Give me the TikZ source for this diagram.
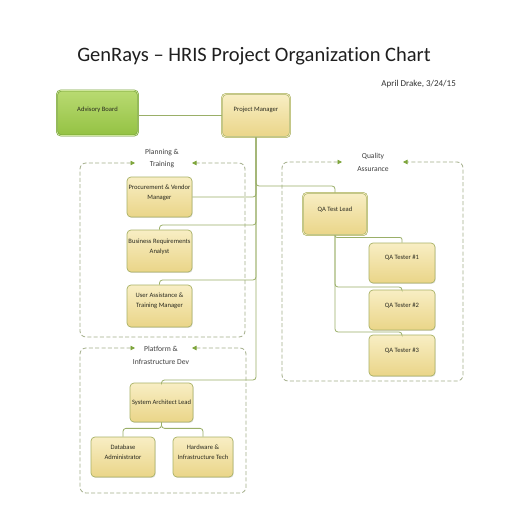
\documentclass[tikz,border=0pt]{standalone}
\usepackage{fontspec}
\setmainfont{Carlito}[Ligatures=NoCommon]
\usetikzlibrary{arrows.meta,shadows}
\definecolor{boxtop}{HTML}{F8EEC4}
\definecolor{boxbot}{HTML}{EAD588}
\definecolor{boxline}{HTML}{A9B266}
\definecolor{agtop}{HTML}{B9DA72}
\definecolor{agbot}{HTML}{94C243}
\definecolor{agline}{HTML}{76A338}
\definecolor{conn}{HTML}{9AAF68}
\definecolor{dashc}{HTML}{A2AD88}
\definecolor{arr}{HTML}{7DA53A}
\definecolor{txt}{HTML}{2A2A20}
\tikzset{
  box/.style={draw=boxline, line width=0.7pt, rounded corners=4pt, top color=boxtop, bottom color=boxbot,
    inner sep=0pt, drop shadow={shadow xshift=0.7pt, shadow yshift=-0.9pt, opacity=0.25}},
  keybox/.style={box, line width=0.6pt, double=boxtop, double distance=0.7pt},
  agbox/.style={keybox, draw=agline, double=agtop!70!white, top color=agtop, bottom color=agbot},
  lbl/.style={text=txt, align=center, inner sep=0pt, font=\fontsize{6.6}{10}\selectfont},
  grplbl/.style={text=black!75, align=center, inner sep=0pt, font=\fontsize{7.6}{12.5}\selectfont},
  conn/.style={draw=conn, line width=0.8pt, rounded corners=3pt},
  grp/.style={draw=dashc, line width=0.8pt, dash pattern=on 4pt off 2.3pt, rounded corners=6pt,
    {Triangle[length=4.5pt,width=4.5pt,color=arr]}-{Triangle[length=4.5pt,width=4.5pt,color=arr]}}
}
\begin{document}
\begin{tikzpicture}[x=1pt,y=-1pt]
\fill[white] (0,0) rectangle (511,511);
\useasboundingbox (0,0) rectangle (511,511);

% title
\node[anchor=base, inner sep=0pt, text=black!88, font=\fontsize{20.5}{24}\selectfont] (title) at (254,62) {GenRays -- HRIS Project Organization Chart};
\node[anchor=base east, inner sep=0pt, text=black!80, font=\fontsize{9}{11}\selectfont] (author) at (456,86) {April Drake, 3/24/15};

% dashed groups
\draw[grp] (135,163) -- (80,163) -- (80,337) -- (245,337) -- (245,163) -- (192,163);
\draw[grp] (135,348) -- (80,348) -- (80,493) -- (246,493) -- (246,348) -- (192,348);
\draw[grp] (342,162) -- (282,162) -- (282,381) -- (463,381) -- (463,162) -- (403,162);
\node[grplbl] (gplan) at (162,158.5) {Planning \&\\Training};
\node[grplbl] (gplat) at (161,355.5) {Platform \&\\Infrastructure Dev};
\node[grplbl] (gqa) at (373,162.5) {Quality\\Assurance};

% boxes
\node[agbox, minimum width=81pt, minimum height=45pt] (ab) at (97.5,113) {};
\node[keybox, minimum width=68pt, minimum height=43pt] (pm) at (256,115.5) {};
\node[box, minimum width=65pt, minimum height=40pt] (proc) at (159.5,197) {};
\node[box, minimum width=65pt, minimum height=42pt] (bra) at (159.5,251) {};
\node[box, minimum width=65pt, minimum height=42pt] (ua) at (159.5,306) {};
\node[box, minimum width=63pt, minimum height=39pt] (sal) at (161.5,402.5) {};
\node[box, minimum width=64pt, minimum height=40pt] (db) at (123,457) {};
\node[box, minimum width=60pt, minimum height=40pt] (hw) at (203,457) {};
\node[keybox, minimum width=64pt, minimum height=42pt] (qatl) at (335,214) {};
\node[box, minimum width=66pt, minimum height=40pt] (t1) at (402,263) {};
\node[box, minimum width=66pt, minimum height=40pt] (t2) at (402,310) {};
\node[box, minimum width=66pt, minimum height=41pt] (t3) at (402,355.5) {};

% box texts
\node[lbl] (tab) at (97.5,110) {Advisory Board};
\node[lbl] (tpm) at (256,110) {Project Manager};
\node[lbl] (tproc) at (159.5,192.5) {Procurement \& Vendor\\Manager};
\node[lbl] (tbra) at (159.5,247) {Business Requirements\\Analyst};
\node[lbl] (tua) at (159.5,301) {User Assistance \&\\Training Manager};
\node[lbl] (tsal) at (161.5,403) {System Architect Lead};
\node[lbl] (tdb) at (123,452) {Database\\Administrator};
\node[lbl] (thw) at (203,452) {Hardware \&\\Infrastructure Tech};
\node[lbl] (tqatl) at (335,210) {QA Test Lead};
\node[lbl] (tt1) at (402,258) {QA Tester \#1};
\node[lbl] (tt2) at (402,306) {QA Tester \#2};
\node[lbl] (tt3) at (402,351) {QA Tester \#3};

% connectors
\draw[conn] (ab.east |- pm.west) -- (pm.west);
\draw[conn] (pm.south) |- (proc.east);
\draw[conn] (pm.south) -- (pm.south |- 0,186) -| (qatl.north);
\draw[conn] (pm.south) -- (pm.south |- 0,225) -| (bra.north);
\draw[conn] (pm.south) -- (pm.south |- 0,280) -| (ua.north);
\draw[conn] (pm.south) -- (pm.south |- 0,380) -| (sal.north);
\draw[conn] (sal.south) -- ++(0,6) -| (db.north);
\draw[conn] (sal.south) -- ++(0,6) -| (hw.north);
\draw[conn, rounded corners=2pt] (qatl.south) -- (qatl.south |- 0,237.5) -| (t1.north);
\draw[conn] (qatl.south) -- (qatl.south |- 0,287) -| (t2.north);
\draw[conn] (qatl.south) -- (qatl.south |- 0,332) -| (t3.north);
\end{tikzpicture}
\end{document}
